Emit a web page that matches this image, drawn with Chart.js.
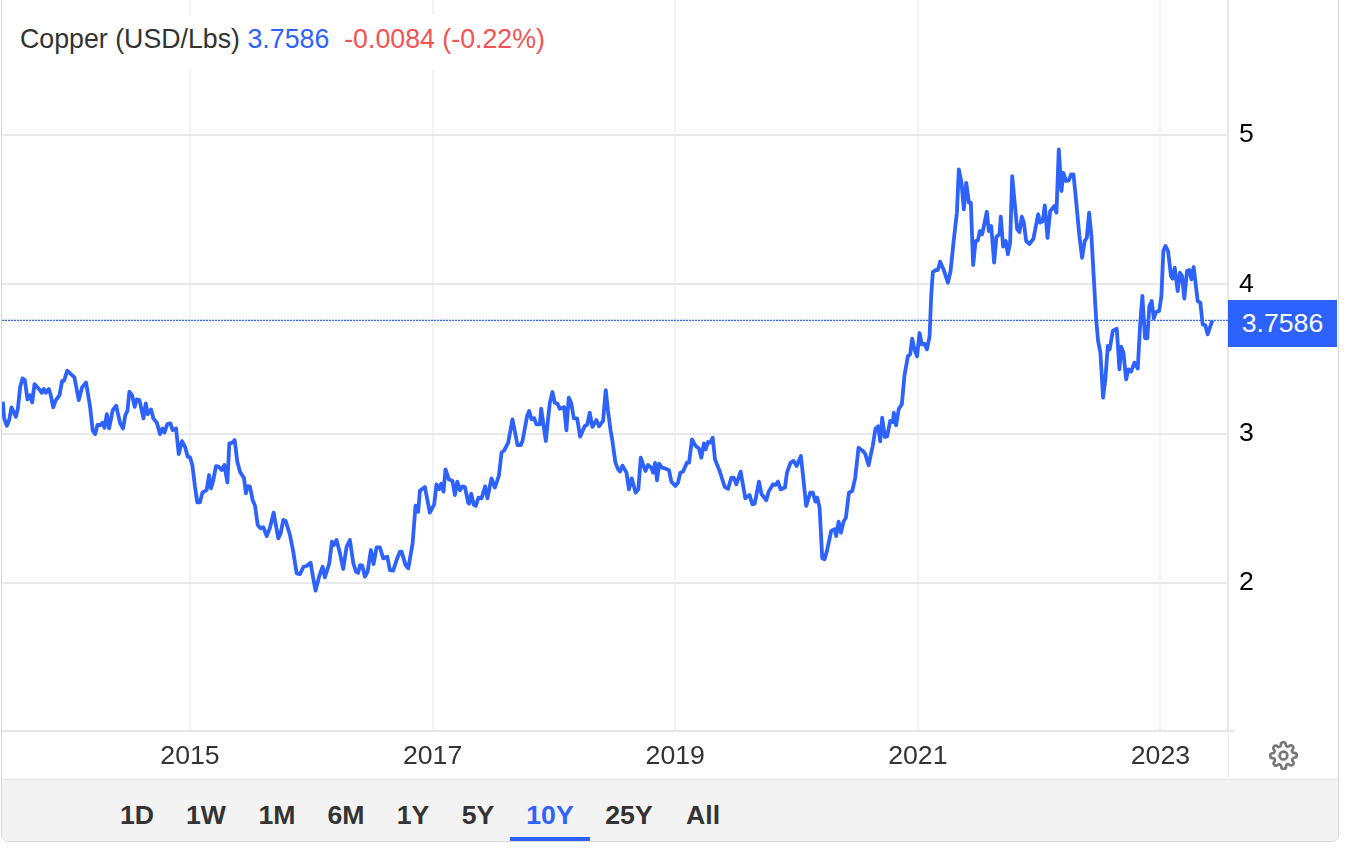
<!DOCTYPE html>
<html><head><meta charset="utf-8">
<script src="https://cdn.jsdelivr.net/npm/chart.js@4"></script>
<style>
html,body{margin:0;padding:0;background:#fff;width:1366px;height:852px;overflow:hidden;font-family:"Liberation Sans",Arial,sans-serif}
#wrap{position:absolute;left:0;top:0;width:1366px;height:852px}
canvas{position:absolute;left:0;top:0}
#title{position:absolute;left:10px;top:15px;width:545px;height:55px;background:#fff;font-size:26.75px;line-height:49px;color:#333;white-space:pre;padding-left:10px;box-sizing:border-box}
#title .v{color:#2d62ff}#title .c{color:#f55353}
#price{position:absolute;left:1228px;top:300px;width:109px;height:47px;background:#2d62ff;color:#fff;font-size:26.67px;line-height:47px;text-align:center}
#bar{position:absolute;left:2px;top:779px;width:1336px;height:62px;background:#f3f3f3;border-top:1px solid #e2e2e2;box-sizing:border-box;border-bottom-left-radius:6px;border-bottom-right-radius:6px}
.b{position:absolute;top:15px;transform:translateX(-50%);font-size:26.67px;font-weight:bold;color:#333;line-height:40px}
.b.on{color:#2d62ff}
#ul{position:absolute;left:510px;top:837px;width:80px;height:4px;background:#2d62ff}
#frame{position:absolute;left:1px;top:-8px;width:1338px;height:850px;border:1px solid #d8d8d8;border-radius:7px;box-sizing:border-box;pointer-events:none}
#div{position:absolute;left:1228px;top:733px;width:1px;height:45px;background:#e6e6e6}
#tick{position:absolute;left:1228px;top:730px;width:7px;height:2px;background:#e6e6e6}
#gear{position:absolute;left:1269px;top:741px}
</style></head><body>
<div id="wrap">
<canvas id="c" width="1366" height="779"></canvas>
<div id="title"></div>
<div id="price"></div>
<div id="tick"></div><div id="div"></div>
<svg id="gear" width="29" height="29" viewBox="0 0 24 24" fill="none" stroke="#777" stroke-width="2.2" stroke-linejoin="round"><circle cx="12" cy="12" r="3.2"/><path d="M19.4 15a1.65 1.65 0 0 0 .33 1.82l.06.06a2 2 0 1 1-2.83 2.83l-.06-.06a1.65 1.65 0 0 0-2.82 1.17V21a2 2 0 1 1-4 0v-.09a1.65 1.65 0 0 0-2.82-1.11l-.06.06a2 2 0 1 1-2.83-2.83l.06-.06a1.65 1.65 0 0 0-1.17-2.82H3a2 2 0 1 1 0-4h.09a1.65 1.65 0 0 0 1.11-2.82l-.06-.06a2 2 0 1 1 2.83-2.83l.06.06a1.65 1.65 0 0 0 2.82-1.17V3a2 2 0 1 1 4 0v.09a1.65 1.65 0 0 0 2.82 1.11l.06-.06a2 2 0 1 1 2.83 2.83l-.06.06a1.65 1.65 0 0 0 1.17 2.82H21a2 2 0 1 1 0 4h-.09a1.65 1.65 0 0 0-1.51 1z"/></svg>
<div id="bar"></div><div id="ul"></div><div id="frame"></div>
</div>
<script>
const seriesName = "Copper (USD/Lbs)";
const lastPrice = "3.7586";
const changeText = "-0.0084 (-0.22%)";
const lastValue = 3.7586;
const rangeLabels = ["1D","1W","1M","6M","1Y","5Y","10Y","25Y","All"];
const activeRange = "10Y";
const yTickValues = [2,3,4,5];
const xTickYears = [2015,2017,2019,2021,2023];
const years = [
2013.457,2013.468,2013.490,2013.509,2013.528,2013.564,2013.581,2013.600,2013.619,2013.638,
2013.660,2013.682,2013.699,2013.718,2013.751,2013.778,2013.795,2013.811,2013.836,2013.852,
2013.872,2013.894,2013.924,2013.946,2013.962,2013.987,2014.025,2014.047,2014.083,2014.110,
2014.143,2014.176,2014.198,2014.218,2014.237,2014.264,2014.278,2014.295,2014.314,2014.333,
2014.363,2014.391,2014.424,2014.448,2014.467,2014.484,2014.500,2014.522,2014.544,2014.561,
2014.583,2014.616,2014.635,2014.651,2014.679,2014.698,2014.726,2014.753,2014.772,2014.789,
2014.813,2014.838,2014.857,2014.885,2014.907,2014.934,2014.959,2014.981,2015.000,2015.019,
2015.041,2015.060,2015.082,2015.102,2015.137,2015.157,2015.173,2015.192,2015.214,2015.236,
2015.261,2015.283,2015.308,2015.324,2015.346,2015.368,2015.390,2015.412,2015.445,2015.461,
2015.475,2015.494,2015.516,2015.536,2015.558,2015.582,2015.604,2015.632,2015.659,2015.689,
2015.728,2015.747,2015.769,2015.788,2015.824,2015.851,2015.879,2015.906,2015.936,2015.961,
2015.994,2016.016,2016.035,2016.066,2016.093,2016.112,2016.148,2016.170,2016.186,2016.208,
2016.236,2016.263,2016.291,2016.318,2016.346,2016.368,2016.387,2016.401,2016.420,2016.442,
2016.464,2016.491,2016.513,2016.538,2016.565,2016.593,2016.626,2016.648,2016.675,2016.703,
2016.730,2016.744,2016.777,2016.799,2016.835,2016.859,2016.881,2016.895,2016.936,2016.977,
2017.013,2017.032,2017.054,2017.071,2017.090,2017.106,2017.134,2017.164,2017.183,2017.203,
2017.225,2017.246,2017.266,2017.293,2017.301,2017.318,2017.340,2017.356,2017.378,2017.403,
2017.433,2017.452,2017.485,2017.513,2017.546,2017.568,2017.590,2017.623,2017.658,2017.700,
2017.727,2017.741,2017.779,2017.796,2017.815,2017.837,2017.856,2017.884,2017.895,2017.933,
2017.966,2017.988,2018.007,2018.029,2018.048,2018.084,2018.103,2018.122,2018.142,2018.164,
2018.191,2018.216,2018.254,2018.276,2018.295,2018.317,2018.350,2018.372,2018.405,2018.427,
2018.446,2018.468,2018.482,2018.507,2018.529,2018.545,2018.565,2018.598,2018.619,2018.641,
2018.674,2018.696,2018.716,2018.735,2018.754,2018.776,2018.803,2018.817,2018.834,2018.850,
2018.867,2018.891,2018.913,2018.949,2018.968,2019.001,2019.023,2019.042,2019.064,2019.097,
2019.114,2019.138,2019.169,2019.196,2019.215,2019.237,2019.251,2019.270,2019.289,2019.309,
2019.328,2019.366,2019.408,2019.435,2019.463,2019.482,2019.504,2019.539,2019.578,2019.613,
2019.635,2019.655,2019.690,2019.712,2019.751,2019.770,2019.806,2019.828,2019.847,2019.869,
2019.905,2019.921,2019.951,2019.976,2020.001,2020.036,2020.080,2020.113,2020.135,2020.155,
2020.171,2020.190,2020.212,2020.231,2020.251,2020.286,2020.314,2020.327,2020.347,2020.366,
2020.388,2020.407,2020.432,2020.459,2020.484,2020.511,2020.547,2020.566,2020.594,2020.629,
2020.651,2020.673,2020.690,2020.706,2020.728,2020.747,2020.772,2020.794,2020.802,2020.821,
2020.843,2020.868,2020.890,2020.918,2020.937,2020.953,2020.975,2020.994,2021.014,2021.033,
2021.055,2021.075,2021.097,2021.110,2021.124,2021.151,2021.165,2021.184,2021.212,2021.248,
2021.270,2021.294,2021.322,2021.338,2021.360,2021.379,2021.399,2021.421,2021.437,2021.456,
2021.476,2021.495,2021.511,2021.530,2021.569,2021.585,2021.605,2021.629,2021.648,2021.673,
2021.684,2021.703,2021.725,2021.742,2021.761,2021.778,2021.819,2021.838,2021.857,2021.874,
2021.893,2021.920,2021.953,2021.992,2022.008,2022.030,2022.047,2022.069,2022.091,2022.126,
2022.143,2022.162,2022.184,2022.200,2022.222,2022.244,2022.264,2022.283,2022.305,2022.332,
2022.354,2022.376,2022.393,2022.412,2022.431,2022.448,2022.470,2022.486,2022.505,2022.527,
2022.546,2022.566,2022.582,2022.607,2022.640,2022.662,2022.676,2022.695,2022.717,2022.736,
2022.758,2022.785,2022.813,2022.832,2022.851,2022.873,2022.892,2022.909,2022.928,2022.945,
2022.964,2022.989,2023.008,2023.024,2023.041,2023.063,2023.087,2023.101,2023.118,2023.142,
2023.161,2023.178,2023.197,2023.219,2023.238,2023.255,2023.274,2023.307,2023.329,2023.348,
2023.370,2023.389,2023.428];
const prices = [
3.214,3.102,3.053,3.091,3.176,3.113,3.169,3.314,3.370,3.359,
3.229,3.258,3.209,3.332,3.303,3.274,3.299,3.274,3.299,3.258,
3.176,3.225,3.258,3.354,3.354,3.421,3.394,3.377,3.225,3.310,
3.343,3.180,3.020,2.997,3.058,3.058,3.073,3.040,3.131,3.035,
3.158,3.187,3.069,3.035,3.125,3.153,3.281,3.258,3.180,3.229,
3.225,3.102,3.203,3.131,3.162,3.102,3.073,2.997,3.035,3.008,
3.064,3.069,3.024,3.035,2.863,2.950,2.912,2.846,2.841,2.790,
2.645,2.540,2.540,2.605,2.622,2.723,2.634,2.689,2.783,2.779,
2.756,2.790,2.674,2.935,2.939,2.957,2.812,2.745,2.701,2.600,
2.649,2.645,2.556,2.518,2.388,2.366,2.373,2.315,2.370,2.471,
2.299,2.332,2.422,2.417,2.321,2.210,2.065,2.060,2.109,2.114,
2.136,2.031,1.949,2.047,2.109,2.038,2.132,2.277,2.254,2.288,
2.199,2.094,2.243,2.288,2.132,2.076,2.069,2.120,2.116,2.042,
2.076,2.221,2.127,2.239,2.239,2.165,2.176,2.087,2.083,2.154,
2.210,2.210,2.120,2.098,2.265,2.518,2.477,2.618,2.643,2.471,
2.527,2.661,2.627,2.665,2.612,2.761,2.694,2.683,2.589,2.679,
2.621,2.647,2.643,2.538,2.531,2.598,2.523,2.516,2.572,2.567,
2.647,2.567,2.701,2.639,2.717,2.873,2.888,2.940,3.096,2.924,
2.924,2.951,3.118,3.152,3.096,3.103,3.062,3.062,3.167,2.951,
3.207,3.279,3.207,3.201,3.167,3.178,3.022,3.241,3.207,3.103,
3.103,2.980,3.051,3.062,3.141,3.045,3.091,3.049,3.085,3.292,
3.152,3.018,2.951,2.806,2.761,2.746,2.786,2.739,2.627,2.701,
2.605,2.627,2.839,2.795,2.750,2.790,2.772,2.739,2.804,2.688,
2.799,2.772,2.768,2.755,2.679,2.650,2.672,2.739,2.746,2.806,
2.806,2.962,2.917,2.900,2.839,2.935,2.895,2.944,2.940,2.973,
2.828,2.750,2.643,2.630,2.706,2.706,2.661,2.746,2.567,2.589,
2.527,2.531,2.679,2.594,2.554,2.612,2.661,2.656,2.679,2.627,
2.639,2.739,2.806,2.817,2.784,2.851,2.516,2.605,2.605,2.545,
2.572,2.505,2.166,2.159,2.215,2.349,2.360,2.315,2.411,2.337,
2.411,2.438,2.605,2.616,2.706,2.906,2.884,2.866,2.788,2.922,
3.033,3.049,2.949,3.107,2.978,2.982,3.085,3.078,3.141,3.056,
3.167,3.196,3.390,3.518,3.531,3.636,3.558,3.518,3.674,3.598,
3.602,3.565,3.654,3.922,4.083,4.096,4.096,4.152,4.100,4.011,
4.089,4.279,4.480,4.770,4.680,4.502,4.680,4.547,4.547,4.129,
4.290,4.294,4.357,4.335,4.486,4.357,4.390,4.145,4.319,4.335,
4.453,4.252,4.290,4.201,4.279,4.725,4.368,4.350,4.453,4.413,
4.290,4.270,4.306,4.469,4.413,4.424,4.529,4.312,4.491,4.524,
4.480,4.904,4.625,4.747,4.692,4.696,4.736,4.736,4.558,4.324,
4.178,4.290,4.312,4.480,4.324,4.078,3.766,3.621,3.543,3.241,
3.364,3.587,3.565,3.688,3.703,3.431,3.583,3.543,3.364,3.431,
3.415,3.476,3.436,3.721,3.922,3.639,3.639,3.855,3.888,3.772,
3.815,3.822,3.922,4.223,4.257,4.223,4.056,4.038,4.112,3.955,
4.078,4.056,3.904,4.089,4.096,4.033,4.116,3.888,3.877,3.732,
3.726,3.665,3.7586];
const xRange = [2013.450,2023.557];
const yRange = [1.009,5.904];

document.getElementById('title').innerHTML = seriesName+' <span class="v">'+lastPrice+'</span>  <span class="c">'+changeText+'</span>';
document.getElementById('price').textContent = lastPrice;
const bar = document.getElementById('bar');
const centers = [137,206,277,346,413,478,550,629,703];
rangeLabels.forEach((t,i)=>{const d=document.createElement('div');d.className='b'+(t===activeRange?' on':'');d.textContent=t;d.style.left=(centers[i]-2)+'px';bar.appendChild(d);});

function clearMargins(s){
  s.paddingTop=0;s.paddingBottom=0;s.paddingLeft=0;s.paddingRight=0;
  if(s._margins){s._margins.top=0;s._margins.bottom=0;s._margins.left=0;s._margins.right=0;}
}
new Chart(document.getElementById('c'),{
 type:'line',
 data:{datasets:[
  {data:years.map((x,i)=>({x,y:prices[i]})),borderColor:'#2d62ff',borderWidth:3.8,pointRadius:0,tension:0,borderJoinStyle:'round',fill:false},
  {data:xRange.map(x=>({x,y:lastValue})),borderColor:'#2d62ff',borderWidth:1.2,borderDash:[2,1],pointRadius:0,fill:false}
 ]},
 options:{
  responsive:false,devicePixelRatio:1,animation:false,
  layout:{autoPadding:false,padding:{left:2,right:0,top:0,bottom:0}},
  plugins:{legend:{display:false},title:{display:false},tooltip:{enabled:false}},
  scales:{
   x:{type:'linear',min:xRange[0],max:xRange[1],
    afterBuildTicks:s=>{s.ticks=xTickYears.map(v=>({value:v}));},
    afterFit:s=>{s.height=48;clearMargins(s);},
    grid:{color:'#f1f3f6',lineWidth:2,drawTicks:false},
    border:{color:'#e6e6e6',width:2},
    ticks:{autoSkip:false,maxRotation:0,padding:10,color:'#333',font:{family:'"Liberation Sans"',size:26.67},callback:v=>String(v)}},
   y:{type:'linear',position:'right',min:yRange[0],max:yRange[1],
    afterBuildTicks:s=>{s.ticks=yTickValues.map(v=>({value:v}));},
    afterFit:s=>{s.width=138;clearMargins(s);},
    grid:{color:'#e8e8e8',lineWidth:2,drawTicks:false},
    border:{color:'#e6e6e6',width:2},
    ticks:{padding:11,color:'#000',font:{family:'"Liberation Sans"',size:26.67},callback:v=>String(v)}}
  }
 }
});
</script></body></html>
